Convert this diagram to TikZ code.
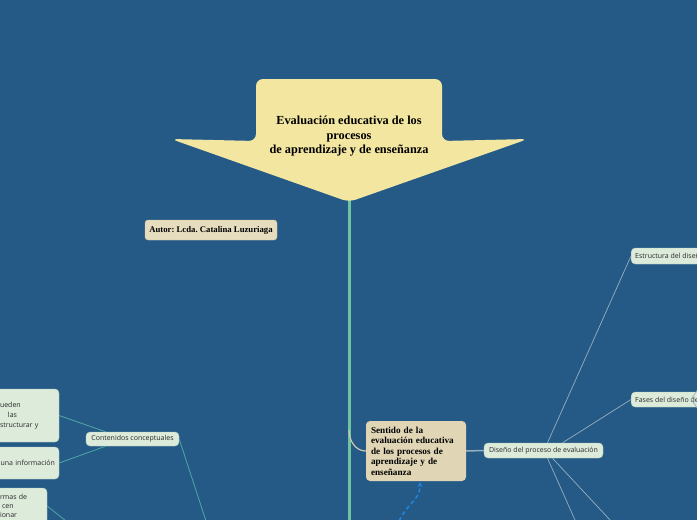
\documentclass[tikz,border=0pt]{standalone}
\usepackage{fontspec}
\setmainfont{Liberation Serif}
\newfontfamily\osans{Open Sans}
\usetikzlibrary{arrows.meta}
\frenchspacing
\definecolor{bg}{RGB}{37,90,135}
\definecolor{arrowfill}{RGB}{242,230,160}
\definecolor{afill}{RGB}{230,221,191}
\definecolor{aborder}{RGB}{200,190,155}
\definecolor{sfill}{RGB}{224,214,182}
\definecolor{gfill}{RGB}{221,235,219}
\definecolor{gbord}{RGB}{180,205,185}
\definecolor{mainline}{RGB}{108,196,161}
\definecolor{tealline}{RGB}{80,168,160}
\definecolor{grayline}{RGB}{150,175,190}
\definecolor{beigeline}{RGB}{205,200,175}
\definecolor{dashblue}{RGB}{30,134,224}
\definecolor{txt}{RGB}{40,40,40}
\tikzset{
  greenbox/.style={draw=gbord, fill=gfill, rounded corners=4pt, text=txt, inner ysep=0pt,
    font=\osans\fontsize{7}{10}\selectfont},
  abox/.style={draw=aborder, fill=afill, rounded corners=3pt, text=black, inner sep=0pt,
    font=\bfseries\fontsize{8.7}{10}\selectfont},
  sbox/.style={fill=sfill, rounded corners=4pt, text=black, inner ysep=0pt,
    font=\bfseries\fontsize{9.2}{10.5}\selectfont},
  tlink/.style={draw=tealline, line width=0.8pt},
  glink/.style={draw=grayline, line width=0.7pt},
}
\begin{document}
\begin{tikzpicture}[x=1pt,y=-1pt]
\useasboundingbox (0,0) rectangle (697,520);
\fill[bg] (0,0) rectangle (697,520);
\begin{scope}
\clip (0,0) rectangle (697,520);
% main trunk
\coordinate (tip) at (349,200);
\coordinate (bot) at (349,521);
\coordinate (m1) at (349,430);
\draw[mainline, line width=3pt] (tip) -- (bot);
% title arrow
\fill[arrowfill, rounded corners=7pt] (256,141) -- (256,79) -- (442,79) -- (442,141)
   -- (528,139) -- (349,202) -- (171,139) -- cycle;
\node[font=\bfseries\fontsize{12.3}{14.5}\selectfont, align=center, text=black] (ti) at (349,136.5)
  {Evaluación educativa de los\\procesos\\de aprendizaje y de enseñanza};
% author
\node[abox, minimum width=132pt, minimum height=20pt] (au) at (211,230) {Autor: Lcda. Catalina Luzuriaga};
% sentido
\node[sbox, text width=90pt, inner xsep=5pt, minimum height=60pt, align=left] (sn) at (416,451)
  {Sentido de la\\evaluación educativa\\de los procesos de\\aprendizaje y de\\enseñanza};
\draw[beigeline, line width=1.2pt] (m1) to[out=-90,in=180] (sn.west);
% diseño
\node[greenbox, minimum width=119pt, minimum height=15pt, inner xsep=0pt] (dp) at (543.5,450.5) {Diseño del proceso de evaluación};
\draw[draw=grayline, line width=1.5pt] (sn.east) -- (dp.west);
\node[greenbox, anchor=west, minimum height=16pt, inner xsep=4pt] (es) at (631,256) {Estructura del diseño};
\node[greenbox, anchor=west, minimum height=15pt, inner xsep=4pt] (fs) at (631,399.5) {Fases del diseño de};
\coordinate (d1) at (575,520);
\coordinate (d2) at (610,520);
\coordinate (fa) at (691,399);
\coordinate (fu) at (702,384);
\coordinate (fd) at (702,415);
\draw[glink] ([xshift=4pt]dp.north) -- (es.west);
\draw[glink] ([xshift=19pt]dp.north) -- (fs.west);
\draw[glink] ([xshift=4pt]dp.south) -- (d1);
\draw[glink] ([xshift=9pt]dp.south) -- (d2);
\draw[glink] (fa) -- (fu);
\draw[glink] (fa) -- (fd);
% left side
\node[greenbox, minimum width=93pt, minimum height=14pt, inner xsep=0pt] (cc) at (132.5,439) {Contenidos conceptuales};
\node[greenbox, text width=39pt, inner xsep=20pt, minimum height=53pt, align=left] (b1) at (19.5,415.5)
  {ueden\\\hspace*{8pt}las\\structurar y};
\node[greenbox, text width=60pt, inner xsep=4pt, minimum height=32pt, align=right] (b2) at (25,463)
  {una información};
\node[greenbox, text width=37pt, inner xsep=10pt, minimum height=36pt, align=left,
  font=\osans\fontsize{7}{9}\selectfont] (b3) at (18.5,506)
  {rmas de\\\hspace*{2pt}cen\\ionar};
\coordinate (c1) at (206,521);
\coordinate (c3) at (66,521);
\draw[tlink] (b1.east) -- (cc.165);
\draw[tlink] (b2.east) -- (cc.195);
\draw[tlink] (cc.east) -- (c1);
\draw[tlink] (b3.east) -- (c3);
% blue dashed
\coordinate (bl) at (399,521);
\draw[dashblue, line width=1.5pt, dash pattern=on 4pt off 3pt, -{Stealth[length=5pt,width=5pt]}]
  (bl) .. controls (410,500) and (420,500) .. ([xshift=4pt,yshift=-1pt]sn.south);
\end{scope}
\end{tikzpicture}
\end{document}
